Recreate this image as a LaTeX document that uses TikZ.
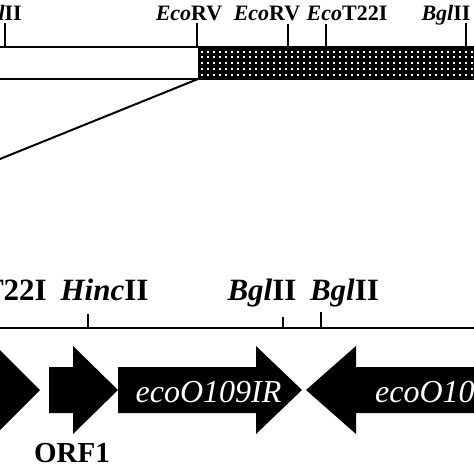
\documentclass[tikz,border=0pt]{standalone}
\usepackage{fontspec}
\setmainfont{Liberation Serif}
\begin{document}
\begin{tikzpicture}[x=1pt,y=-1pt,
  lab/.style={font=\bfseries\fontsize{22}{22}\selectfont, anchor=base, inner sep=0pt},
  blab/.style={font=\bfseries\fontsize{31}{31}\selectfont, anchor=base, inner sep=0pt},
  glab/.style={font=\itshape\fontsize{32}{32}\selectfont, text=white, anchor=base, inner sep=0pt},
  olab/.style={font=\bfseries\fontsize{29}{29}\selectfont, anchor=base, inner sep=0pt},
  tickmark/.style={line width=2.4pt},
  mapline/.style={line width=2.8pt},
  gene/.style={fill=black},
]
\useasboundingbox (0,0) rectangle (474,474);
\clip (0,0) rectangle (474,474);

% ---- top map ----
\fill[black] (198,47) rectangle (480,79);
\foreach \x in {201,207,...,471}
  \foreach \y in {50.5,56.3,...,76}
    \fill[white] (\x,\y) rectangle ++(2,2);
\draw[mapline] (-5,47) -- (480,47);
\draw[mapline] (-5,79) -- (480,79);

\draw[tickmark] (5,23) -- (5,47);
\draw[tickmark] (197,23) -- (197,47);
\draw[tickmark] (288,24) -- (288,47);
\draw[tickmark] (326,24) -- (326,47);
\draw[tickmark] (466,23) -- (466,47);

\node[lab, anchor=base east] (t1) at (22,20) {\textit{Bgl}II};
\node[lab] (t2) at (189,20) {\textit{Eco}RV};
\node[lab] (t3) at (267,20) {\textit{Eco}RV};
\node[lab] (t4) at (347,20) {\textit{Eco}T22I};
\node[lab] (t5) at (446,20) {\textit{Bgl}II};

% zoom line
\coordinate (z1) at (198,79);
\coordinate (z2) at (-5,161);
\draw[line width=2pt] (z1) -- (z2);

% ---- bottom map ----
\draw[mapline] (-5,328) -- (480,328);
\draw[tickmark] (88,314) -- (88,328);
\draw[tickmark] (283,317) -- (283,328);
\draw[tickmark] (321,312) -- (321,328);

\node[blab, anchor=base east] (b1) at (47,300) {\textit{Eco}T22I};
\node[blab] (b2) at (104.5,300) {\textit{Hinc}II};
\node[blab] (b3) at (262,300) {\textit{Bgl}II};
\node[blab] (b4) at (344.5,300) {\textit{Bgl}II};

% genes
\fill[gene] (-60,367) -- (-5,367) -- (-5,345) -- (40,390) -- (-5,435) -- (-5,413) -- (-60,413) -- cycle;
\fill[gene] (49,367) -- (73,367) -- (73,346) -- (118,390) -- (73,434) -- (73,413) -- (49,413) -- cycle;
\fill[gene] (118,367) -- (256,367) -- (256,346) -- (302,390) -- (256,434) -- (256,413) -- (118,413) -- cycle;
\fill[gene] (306,390) -- (356,346) -- (356,367) -- (490,367) -- (490,413) -- (356,413) -- (356,434) -- cycle;

\node[glab] (g1) at (208.5,402) {ecoO109IR};
\node[glab, anchor=base west] (g2) at (375,402) {ecoO109IM};
\node[olab] (orf) at (72,462) {ORF1};
\end{tikzpicture}
\end{document}
